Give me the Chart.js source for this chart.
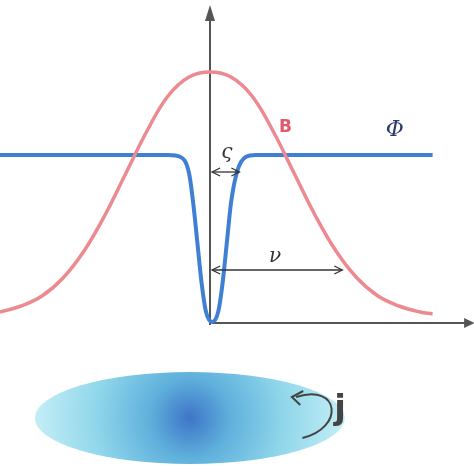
<!DOCTYPE html>
<html>
<head>
<meta charset="utf-8">
<script src="https://cdn.jsdelivr.net/npm/chart.js@4"></script>
<style>
  html, body { margin: 0; padding: 0; background: #fff; }
  #wrap { width: 474px; height: 474px; }
</style>
</head>
<body>
<div id="wrap"><canvas id="myChart" width="474" height="474"></canvas></div>
<script>
// field B (red) and potential Phi (blue), x in arbitrary units, 0 = vortex centre
const bX = [-5, -4.5, -4, -3.5, -3, -2.5, -2, -1.5, -1, -0.5, 0, 0.5, 1, 1.5, 2, 2.5, 3, 3.5, 4, 4.5, 5, 5.3];
const bY = [11, 17, 27, 45, 72, 108, 150, 192, 227, 246, 251, 246, 227, 192, 150, 108, 72, 45, 27, 17, 11, 9];
const phiX = [-5, -1, -0.7, -0.5, -0.4, -0.3, -0.2, -0.1, 0.05, 0.2, 0.3, 0.4, 0.5, 0.65, 0.85, 1.1, 5.3];
const phiY = [168, 168, 166, 150, 120, 80, 40, 12, 1, 12, 40, 80, 120, 152, 166, 168, 168];
const labels = { B: "B", phi: "Φ", xi: "ς", lambda: "ν", j: "j" };

let ctx = document.getElementById("myChart").getContext("2d");

const drawing = {
  id: "drawing",
  beforeDatasetsDraw(chart) {
    let c = chart.ctx, sx = chart.scales.x, sy = chart.scales.y;
    let px = v => sx.getPixelForValue(v), py = v => sy.getPixelForValue(v);
    c.save();
    // axes
    c.strokeStyle = "#555"; c.lineWidth = 2;
    c.beginPath();
    c.moveTo(px(0), py(-2)); c.lineTo(px(0), py(310));
    c.moveTo(px(0.05), py(0)); c.lineTo(px(6.1), py(0));
    c.stroke();
    c.fillStyle = "#555";
    c.beginPath();
    c.moveTo(px(0), py(318)); c.lineTo(px(0) - 5, py(302)); c.lineTo(px(0) + 5, py(302)); c.fill();
    c.beginPath();
    c.moveTo(px(6.3), py(0)); c.lineTo(px(6.05), py(0) - 5); c.lineTo(px(6.05), py(0) + 5); c.fill();
    // blob
    let cx = px(-0.48), cy = py(-95);
    let g = c.createRadialGradient(cx, cy, 2, cx, cy, 155);
    g.addColorStop(0, "#3f78c8");
    g.addColorStop(0.25, "#5fb0dc");
    g.addColorStop(0.6, "#8fd6ea");
    g.addColorStop(1, "#c4eef6");
    c.fillStyle = g;
    c.beginPath();
    c.ellipse(cx, cy, 155, 46, 0, 0, Math.PI * 2);
    c.fill();
    c.restore();
  },
  afterDatasetsDraw(chart) {
    let c = chart.ctx, sx = chart.scales.x, sy = chart.scales.y;
    let px = v => sx.getPixelForValue(v), py = v => sy.getPixelForValue(v);
    c.save();
    c.strokeStyle = "#333"; c.fillStyle = "#333"; c.lineWidth = 1.3;
    function dblArrow(x1, x2, y) {
      c.beginPath(); c.moveTo(x1, y); c.lineTo(x2, y); c.stroke();
      [[x1, 1], [x2, -1]].forEach(([x, d]) => {
        c.beginPath(); c.moveTo(x + 8 * d, y - 4); c.lineTo(x, y); c.lineTo(x + 8 * d, y + 4); c.stroke();
      });
    }
    dblArrow(px(0.05), px(0.7), py(151));
    dblArrow(px(0.05), px(3.15), py(53));
    c.font = "italic 20px 'DejaVu Serif'";
    c.textAlign = "center"; c.textBaseline = "middle";
    c.fillText(labels.xi, px(0.4), py(170));
    c.fillText(labels.lambda, px(1.55), py(66));
    c.fillStyle = "#e05a6a"; c.font = "bold 17px 'DejaVu Sans'";
    c.fillText(labels.B, px(1.8), py(195));
    c.fillStyle = "#2a3a6a"; c.font = "italic 22px 'DejaVu Serif'";
    c.fillText(labels.phi, px(4.4), py(193));
    // curled arrow + j
    c.strokeStyle = "#444"; c.lineWidth = 2;
    c.beginPath();
    c.moveTo(px(2.05), py(-74));
    c.bezierCurveTo(px(3.1), py(-60), px(3.2), py(-105), px(2.2), py(-115));
    c.stroke();
    c.beginPath(); c.moveTo(px(2.22), py(-68)); c.lineTo(px(1.95), py(-74)); c.lineTo(px(2.15), py(-82)); c.stroke();
    c.fillStyle = "#444"; c.font = "bold 34px 'DejaVu Sans'";
    c.fillText(labels.j, px(3.1), py(-87));
    c.restore();
  }
};

let myChart = new Chart(ctx, {
  type: "line",
  data: {
    datasets: [
      { label: "B", data: bX.map((x, i) => ({ x, y: bY[i] })), borderColor: "#ec8a90", borderWidth: 3.5, pointRadius: 0, tension: 0.4, fill: false },
      { label: "Phi", data: phiX.map((x, i) => ({ x, y: phiY[i] })), borderColor: "#3f80d4", borderWidth: 4, pointRadius: 0, cubicInterpolationMode: "monotone", fill: false }
    ]
  },
  options: {
    responsive: false, animation: false,
    layout: { padding: 0 },
    plugins: { legend: { display: false }, tooltip: { enabled: false } },
    scales: {
      x: { type: "linear", min: -5, max: 474 / 42 - 5, display: false },
      y: { min: -151, max: 323, display: false }
    }
  },
  plugins: [drawing]
});
</script>
</body>
</html>
